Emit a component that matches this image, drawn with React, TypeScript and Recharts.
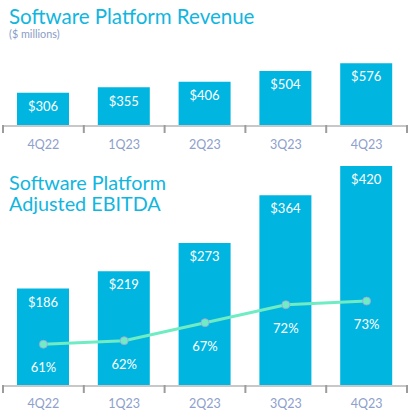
import React from "react";
import { ComposedChart, Bar, Line, XAxis, YAxis, LabelList } from "recharts";

const quarters = ["4Q22", "1Q23", "2Q23", "3Q23", "4Q23"];
const revenue = [306, 355, 406, 504, 576];
const ebitda = [186, 219, 273, 364, 420];
const margin = [61, 62, 67, 72, 73];

const revData = quarters.map((q, i) => ({ q, v: revenue[i] }));
const ebData = quarters.map((q, i) => ({ q, v: ebitda[i], m: margin[i] }));

const W = 415;
const ML = 3;
const MR = 8;
const BAND = (W - ML - MR) / quarters.length;
const BLUE = "#00b5df";
const MINT = "#70ecc4";
const FONT = "Lato, 'Open Sans', sans-serif";

const makeTick = (labelDy: number) => (props: any) => {
  const { x, y, payload, index } = props;
  const left = x - BAND / 2;
  return (
    <g>
      <line x1={left} x2={left} y1={y - 1} y2={y + 7} stroke="#9c9c9c" strokeWidth={2} />
      {index === quarters.length - 1 && (
        <line x1={x + BAND / 2} x2={x + BAND / 2} y1={y - 1} y2={y + 7} stroke="#9c9c9c" strokeWidth={2} />
      )}
      <text x={x} y={y + labelDy} textAnchor="middle" dominantBaseline="middle" fill="#8ea0cc" fontSize={12.5} fontFamily={FONT}>
        {payload.value}
      </text>
    </g>
  );
};

const money = (v: any) => `$${v}`;
const pct = (v: any) => `${v}%`;

export default function App() {
  const titleStyle: React.CSSProperties = {
    position: "absolute",
    left: 9,
    fontSize: 20.5,
    color: "#10b6e0",
    lineHeight: "20px",
    whiteSpace: "nowrap",
    zIndex: 2,
  };
  return (
    <div style={{ position: "absolute", left: 0, top: 0, width: 415, height: 419, background: "#fff", fontFamily: FONT }}>
      <div style={{ ...titleStyle, top: 6 }}>Software Platform Revenue</div>
      <div style={{ position: "absolute", left: 9, top: 27, fontSize: 10.8, color: "#8a9cc6", lineHeight: "14px" }}>
        ($ millions)
      </div>
      <div style={{ ...titleStyle, top: 172, fontSize: 19.8 }}>Software Platform</div>
      <div style={{ ...titleStyle, top: 193, fontSize: 19.8 }}>Adjusted EBITDA</div>

      <div style={{ position: "absolute", left: 0, top: 0 }}>
        <ComposedChart width={W} height={160} data={revData} margin={{ top: 46, right: MR, left: ML, bottom: 0 }}>
          <XAxis
            dataKey="q"
            height={34}
            tickSize={0}
            tickMargin={0}
            tickLine={false}
            axisLine={{ stroke: "#c8c8c8", strokeWidth: 2 }}
            tick={makeTick(20)}
            interval={0}
          />
          <YAxis hide domain={[0, 734]} />
          <Bar dataKey="v" fill={BLUE} barSize={52} isAnimationActive={false}>
            <LabelList dataKey="v" position="insideTop" offset={9} fill="#ffffff" fontSize={13} fontFamily={FONT} formatter={money} />
          </Bar>
        </ComposedChart>
      </div>

      <div style={{ position: "absolute", left: 0, top: 140 }}>
        <ComposedChart width={W} height={279} data={ebData} margin={{ top: 6, right: MR, left: ML, bottom: 0 }}>
          <XAxis
            dataKey="q"
            height={33}
            tickSize={0}
            tickMargin={0}
            tickLine={false}
            axisLine={{ stroke: "#c8c8c8", strokeWidth: 2 }}
            tick={makeTick(19)}
            interval={0}
          />
          <YAxis yAxisId="bar" hide domain={[0, 458]} />
          <YAxis yAxisId="pct" hide domain={[49.4, 116.1]} />
          <Bar yAxisId="bar" dataKey="v" fill={BLUE} barSize={52} isAnimationActive={false}>
            <LabelList dataKey="v" position="insideTop" offset={9} fill="#ffffff" fontSize={13} fontFamily={FONT} formatter={money} />
          </Bar>
          <Line
            yAxisId="pct"
            dataKey="m"
            stroke={MINT}
            strokeWidth={3}
            dot={{ r: 4, fill: MINT, stroke: "#a89ee0", strokeWidth: 0.8 }}
            isAnimationActive={false}
          >
            <LabelList dataKey="m" position="bottom" offset={19} fill="#ffffff" fontSize={13} fontFamily={FONT} formatter={pct} />
          </Line>
        </ComposedChart>
      </div>
    </div>
  );
}
